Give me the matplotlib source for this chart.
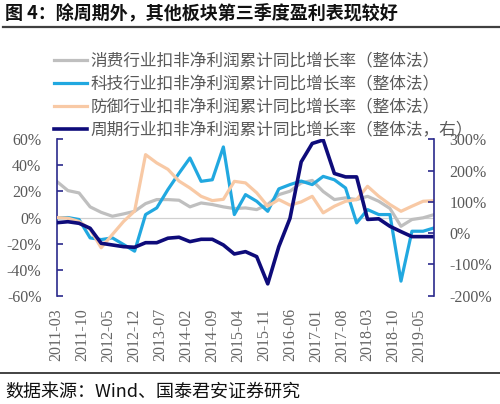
import matplotlib
matplotlib.use("Agg")
import matplotlib.pyplot as plt
import pandas as pd

plt.rcParams["font.family"] = ["Noto Sans CJK SC", "DejaVu Sans"]

dates = ["2011-03", "2011-06", "2011-09", "2011-12", "2012-03", "2012-06", "2012-09", "2012-12",
         "2013-03", "2013-06", "2013-09", "2013-12", "2014-03", "2014-06", "2014-09", "2014-12",
         "2015-03", "2015-06", "2015-09", "2015-12", "2016-03", "2016-06", "2016-09", "2016-12",
         "2017-03", "2017-06", "2017-09", "2017-12", "2018-03", "2018-06", "2018-09", "2018-12",
         "2019-03", "2019-06", "2019-09"]

# left axis, %
consumer = [27.8, 20.7, 18.9, 8.2, 4.0, 1.0, 2.8, 4.8, 10.7, 13.8, 13.8, 13.3, 8.2, 11.2, 10.0, 8.2,
            6.9, 7.4, 6.1, 10.0, 17.6, 20.2, 26.6, 28.5, 20.0, 13.8, 15.1, 13.8, 16.3, 12.5, 7.0,
            -6.7, -1.5, -0.2, 2.3]
tech = [-0.2, 0.0, -1.5, -15.6, -16.9, -15.6, -20.7, -25.8, 2.3, 7.4, 21.5, 34.0, 45.7, 27.8, 29.0,
        54.2, 2.3, 17.6, 12.5, 4.8, 22.0, 25.3, 28.0, 25.3, 31.6, 29.0, 22.7, -4.1, 6.1, 2.3, 2.3,
        -48.8, -10.5, -10.5, -7.9]
defensive = [0.0, -0.5, -3.0, -9.0, -23.2, -13.0, -3.0, 5.0, 48.3, 41.9, 37.0, 28.0, 22.7, 16.3, 13.0,
             14.0, 27.8, 26.6, 19.0, 8.7, 13.8, 9.5, 12.0, 16.3, 3.6, 8.7, 12.5, 13.8, 24.0, 16.3,
             10.0, 4.8, 8.7, 12.5, 13.0]
# right axis, %
cyclical = [33.5, 36.7, 31.6, 15.7, -32.3, -37.7, -43.1, -45.0, -30.4, -30.4, -16.0, -13.0, -27.0,
            -19.5, -19.5, -37.7, -66.5, -59.0, -75.0, -162.0, -43.0, 47.6, 228.0, 287.0, 298.0,
            191.0, 180.0, 180.0, 44.0, 46.0, 22.0, 5.0, -11.0, -11.0, -11.0]

tick_labels = ["2011-03", "2011-10", "2012-05", "2012-12", "2013-07", "2014-02", "2014-09", "2015-04",
               "2015-11", "2016-06", "2017-01", "2017-08", "2018-03", "2018-10", "2019-05"]

names = ["消费行业扣非净利润累计同比增长率（整体法）",
         "科技行业扣非净利润累计同比增长率（整体法）",
         "防御行业扣非净利润累计同比增长率（整体法）",
         "周期行业扣非净利润累计同比增长率（整体法，右）"]

x = pd.to_datetime(dates)
xt = pd.to_datetime(tick_labels)

fig = plt.figure(figsize=(5, 4.04), dpi=100)
ax = fig.add_axes([0.1134, 0.268, 0.7552, 0.387])
ax2 = ax.twinx()

ax.axhline(0, color="#D0D0D0", lw=0.9, zorder=1)
l1, = ax.plot(x, consumer, color="#BFBFBF", lw=2.3, zorder=2)
l2, = ax.plot(x, tech, color="#21A8E0", lw=2.3, zorder=3)
l3, = ax.plot(x, defensive, color="#F8C9A5", lw=2.3, zorder=4)
l4, = ax2.plot(x, cyclical, color="#0E0B7A", lw=2.6)

ax.set_xlim(x[0], x[-1])
ax.set_ylim(-60, 60)
ax2.set_ylim(-200, 300)
ax.set_yticks(range(-60, 61, 20))
ax.set_yticklabels([f"{v}%" for v in range(-60, 61, 20)])
ax2.set_yticks(range(-200, 301, 100))
ax2.set_yticklabels([f"{v}%" for v in range(-200, 301, 100)])
ax.set_xticks(xt)
ax.set_xticklabels(tick_labels, rotation=90)

spine_c = "#2B2A8C"
for a in (ax, ax2):
    for s in ("top", "bottom"):
        a.spines[s].set_visible(False)
    a.spines["left"].set_color(spine_c)
    a.spines["right"].set_color(spine_c)
    a.spines["left"].set_linewidth(1.2)
    a.spines["right"].set_linewidth(1.2)
ax.spines["right"].set_visible(False)
ax2.spines["left"].set_visible(False)

ax.tick_params(axis="y", direction="in", length=4, width=1.2, color=spine_c, pad=11,
               labelcolor="#595959")
ax2.tick_params(axis="y", direction="in", length=4, width=1.2, color=spine_c, pad=11,
                labelcolor="#595959")
ax.tick_params(axis="x", length=0, pad=9, labelcolor="#666666")
for lab in ax.get_yticklabels() + ax2.get_yticklabels() + ax.get_xticklabels():
    lab.set_fontfamily("Liberation Serif")
    lab.set_fontsize(11.5)

fig.legend([l1, l2, l3, l4], names, loc="upper left", bbox_to_anchor=(0.108, 0.868),
           frameon=False, fontsize=12, handlelength=2.0, handletextpad=0.2,
           labelspacing=0.36, borderpad=0, borderaxespad=0, labelcolor="#595959")

fig.text(0.01, 0.969, "图 4：除周期外，其他板块第三季度盈利表现较好", fontsize=13, fontweight="bold",
         va="center", ha="left", color="#111111")
fig.add_artist(plt.Line2D([0.005, 1.0], [0.934, 0.934], color="#404040", lw=1.6))
fig.add_artist(plt.Line2D([0.0, 1.0], [0.077, 0.077], color="#222222", lw=1.2))
fig.text(0.01, 0.030, "数据来源：Wind、国泰君安证券研究", fontsize=13, va="center", ha="left",
         color="#111111")

fig.savefig("out.png", dpi=100)
